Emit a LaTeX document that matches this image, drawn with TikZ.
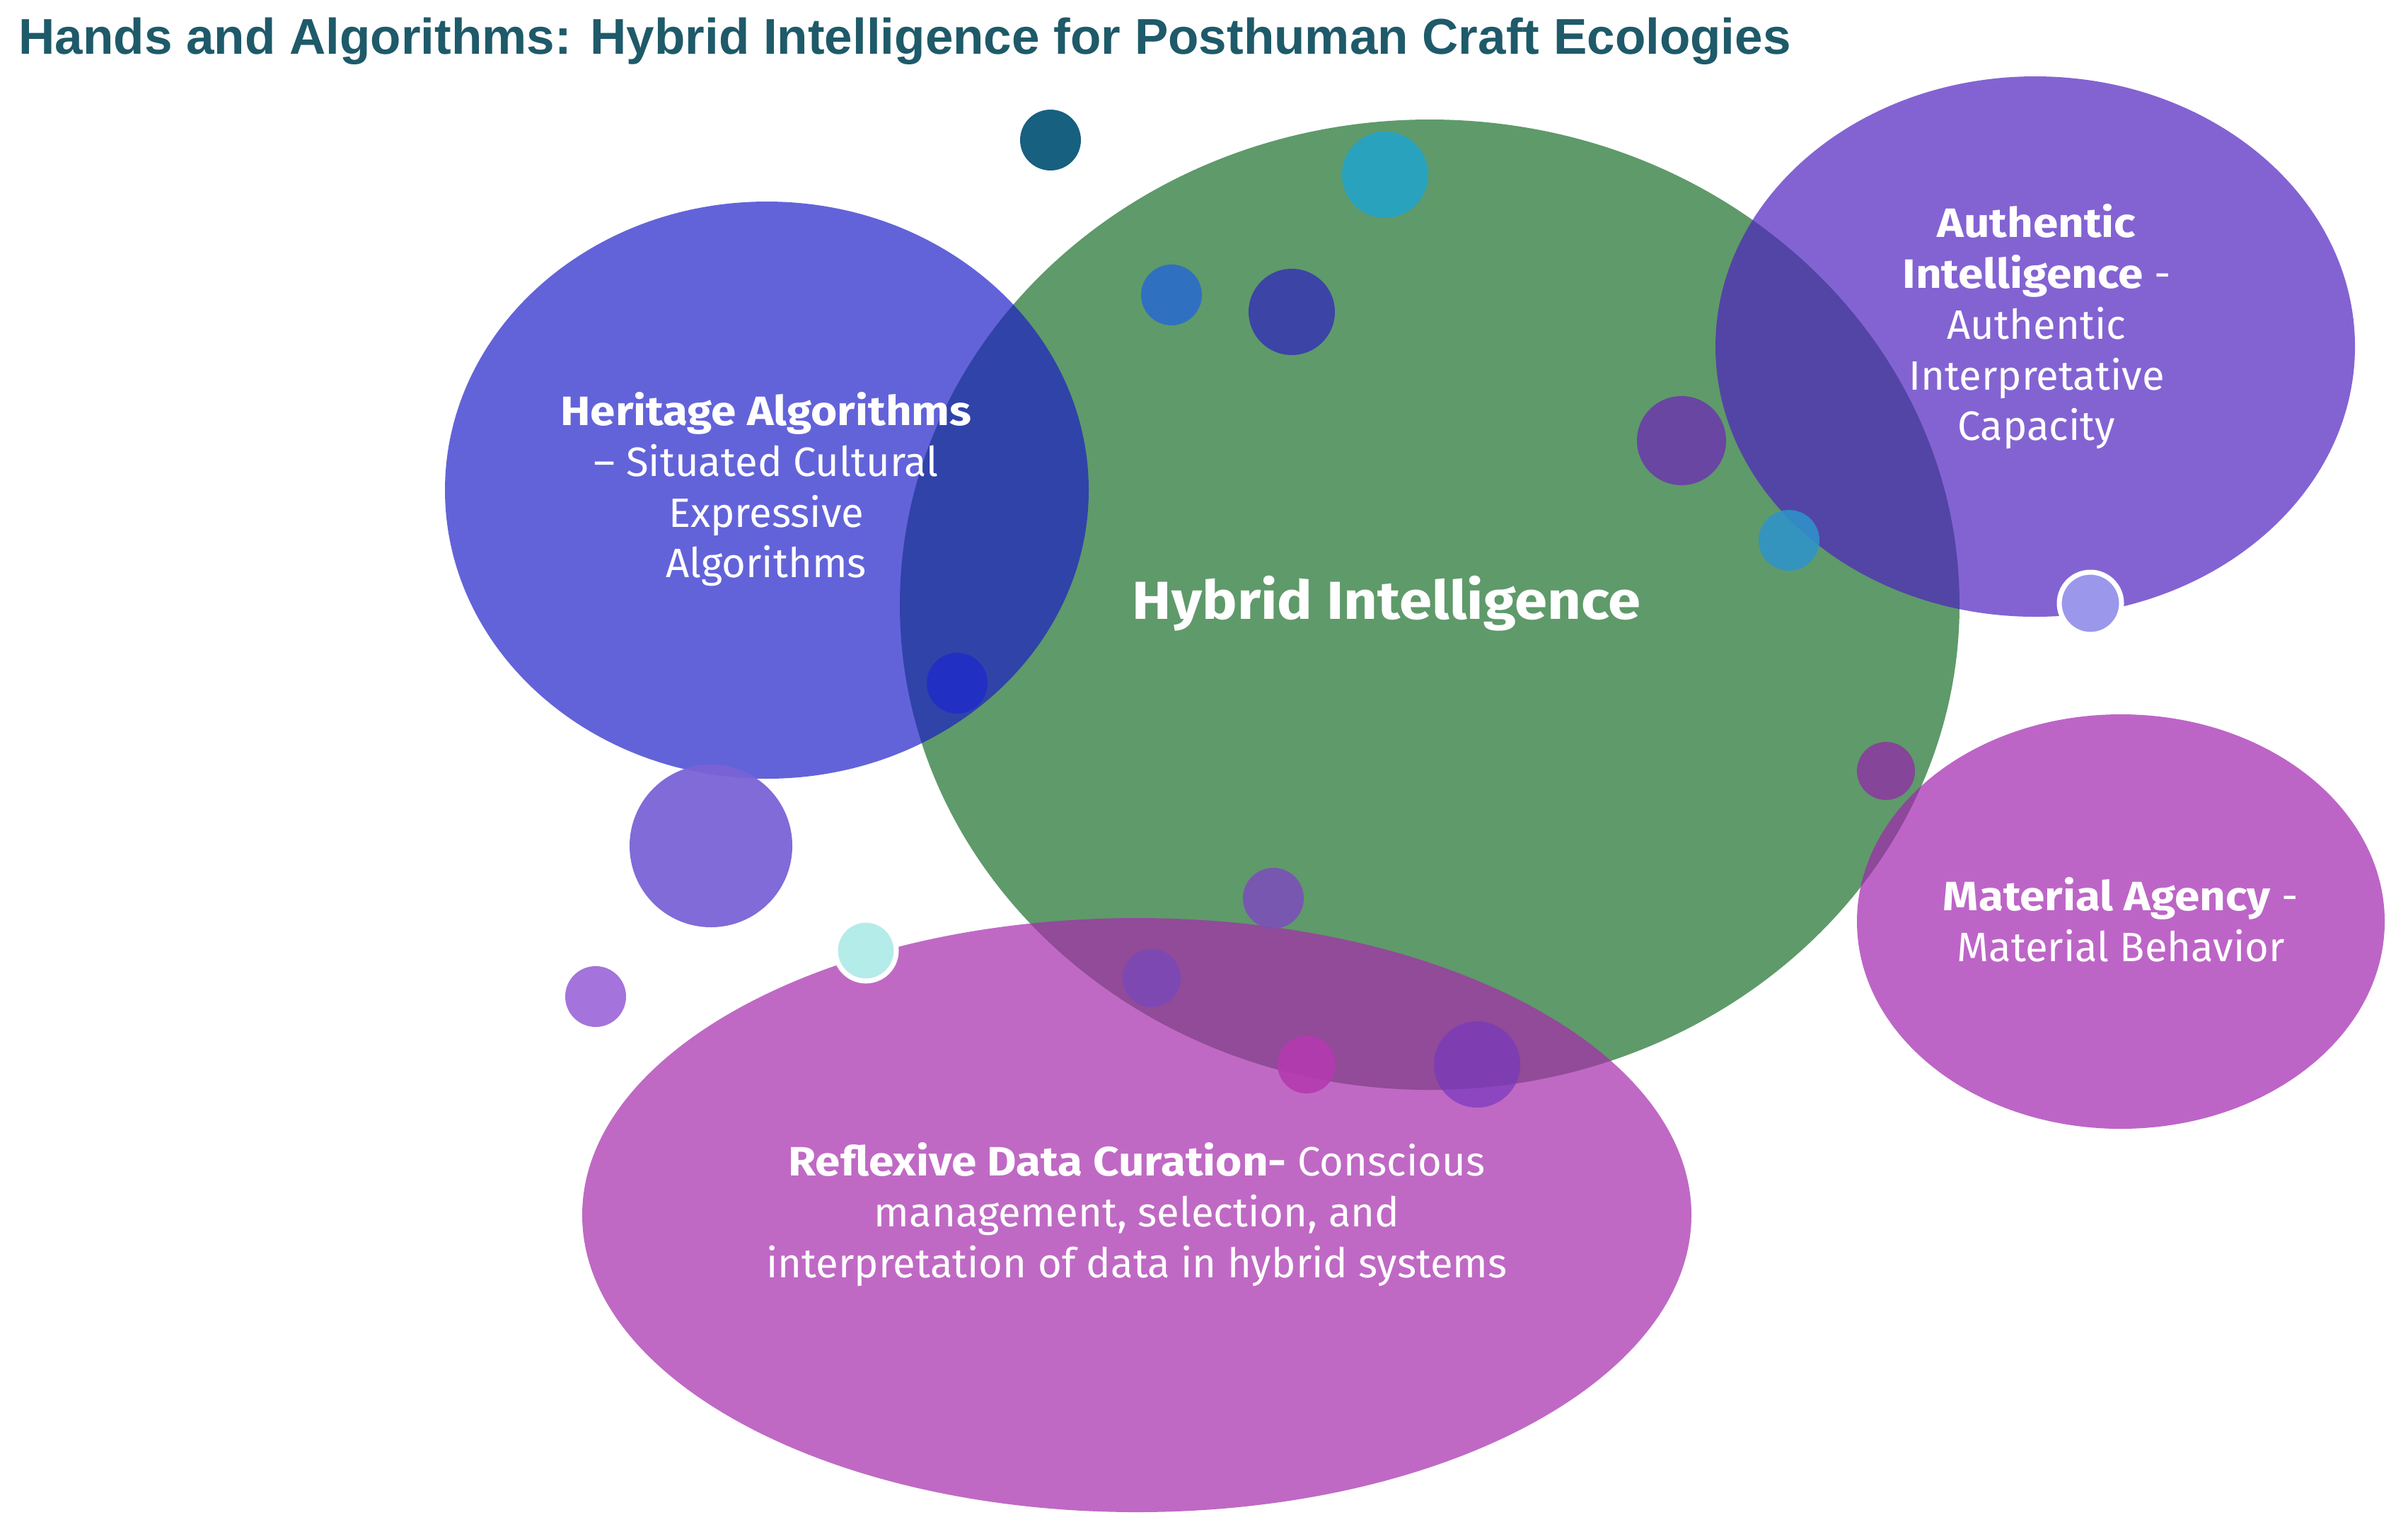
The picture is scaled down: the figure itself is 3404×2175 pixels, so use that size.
\documentclass[tikz,border=0pt]{standalone}
\usepackage{fontspec}
\setmainfont{Fira Sans}[BoldFeatures={FakeStretch=1.1}]
\newfontfamily\titlefont{Liberation Sans}
\usepackage{xcolor}
\definecolor{titleteal}{RGB}{30,90,105}
\definecolor{hybridgreen}{RGB}{95,154,106}
\definecolor{heritageblue}{RGB}{26,26,200}
\definecolor{authenticpurple}{RGB}{79,34,191}
\definecolor{materialpink}{RGB}{161,36,176}
\definecolor{reflexivepink}{RGB}{166,44,172}
\definecolor{dotteal}{RGB}{23,96,127}
\definecolor{dotcyan}{RGB}{39,163,195}
\definecolor{dotblue}{RGB}{46,110,198}
\definecolor{dotnavy}{RGB}{59,64,170}
\definecolor{dotviolet}{RGB}{106,61,168}
\definecolor{dotsky}{RGB}{46,148,204}
\definecolor{dotplum}{RGB}{138,60,158}
\definecolor{dotdeep}{RGB}{20,30,220}
\definecolor{dotiris}{RGB}{122,100,214}
\definecolor{dotlilac}{RGB}{160,108,218}
\definecolor{dotgrape}{RGB}{123,80,184}
\definecolor{dotindigo}{RGB}{110,70,200}
\definecolor{dotmagenta}{RGB}{180,58,176}
\definecolor{dotorchid}{RGB}{120,56,190}
\definecolor{dotlavender}{RGB}{155,151,234}
\definecolor{dotmint}{RGB}{180,236,233}

\begin{document}
\begin{tikzpicture}[x=0.01cm,y=0.01cm,
    bubble/.style={fill opacity=.7},
    lbl/.style={text=white,align=center,inner sep=0pt,font=\fontsize{16.5}{20.4}\selectfont}]
    \useasboundingbox (0,0) rectangle (3404,-2175);
    \fill[white] (0,0) rectangle (3404,-2175);
    \node[anchor=base west,inner sep=0pt,text=titleteal,font=\titlefont\bfseries\fontsize{20.2}{24}\selectfont] (title) at (26,-76) {Hands and Algorithms: Hybrid Intelligence for Posthuman Craft Ecologies};

    \fill[hybridgreen] (2021,-855) ellipse [x radius=749,y radius=686];
    \fill[heritageblue,bubble,fill opacity=.68] (1084,-693) ellipse [x radius=455,y radius=408];
    \fill[authenticpurple,bubble] (2877,-490) ellipse [x radius=452,y radius=382];
    \fill[materialpink,bubble] (2998,-1303) ellipse [x radius=373,y radius=293];
    \fill[reflexivepink,bubble,fill opacity=.71] (1607,-1718) ellipse [x radius=784,y radius=420];

    \foreach \cx/\cy/\r/\c/\o in {1485/198/43/dotteal/1,
        1958/247/61/dotcyan/.95,
        1656/417/43/dotblue/.95,
        1826/441/61/dotnavy/.95,
        2377/623/63/dotviolet/.9,
        2529/764/43/dotsky/.85,
        2666/1090/41/dotplum/.9,
        1353/966/43/dotdeep/.5,
        1005/1196/115/dotiris/.95,
        842/1409/43/dotlilac/.95,
        1800/1270/43/dotgrape/.9,
        1628/1383/41/dotindigo/.55,
        1847/1505/41/dotmagenta/.9,
        2088/1505/61/dotorchid/.7}
        \fill[\c,fill opacity=\o] (\cx,-\cy) circle[radius=\r];
    \filldraw[fill=dotlavender,draw=white,line width=2pt] (2955,-853) circle[radius=44];
    \filldraw[fill=dotmint,draw=white,line width=2pt] (1224,-1344) circle[radius=43];

    \node[lbl] (heritage) at (1083,-692) {\textbf{Heritage Algorithms}\\– Situated Cultural\\Expressive\\Algorithms};
    \node[lbl,font=\bfseries\fontsize{21.5}{25}\selectfont] (hybrid) at (1960,-853) {Hybrid Intelligence};
    \node[lbl] (authentic) at (2879,-462) {\textbf{Authentic}\\\textbf{Intelligence} -\\Authentic\\Interpretative\\Capacity};
    \node[lbl] (material) at (2998,-1300) {\textbf{Material Agency} -\\Material Behavior};
    \node[lbl] (reflexive) at (1607,-1717) {\textbf{Reflexive Data Curation-} Conscious\\management, selection, and\\interpretation of data in hybrid systems};
\end{tikzpicture}
\end{document}
